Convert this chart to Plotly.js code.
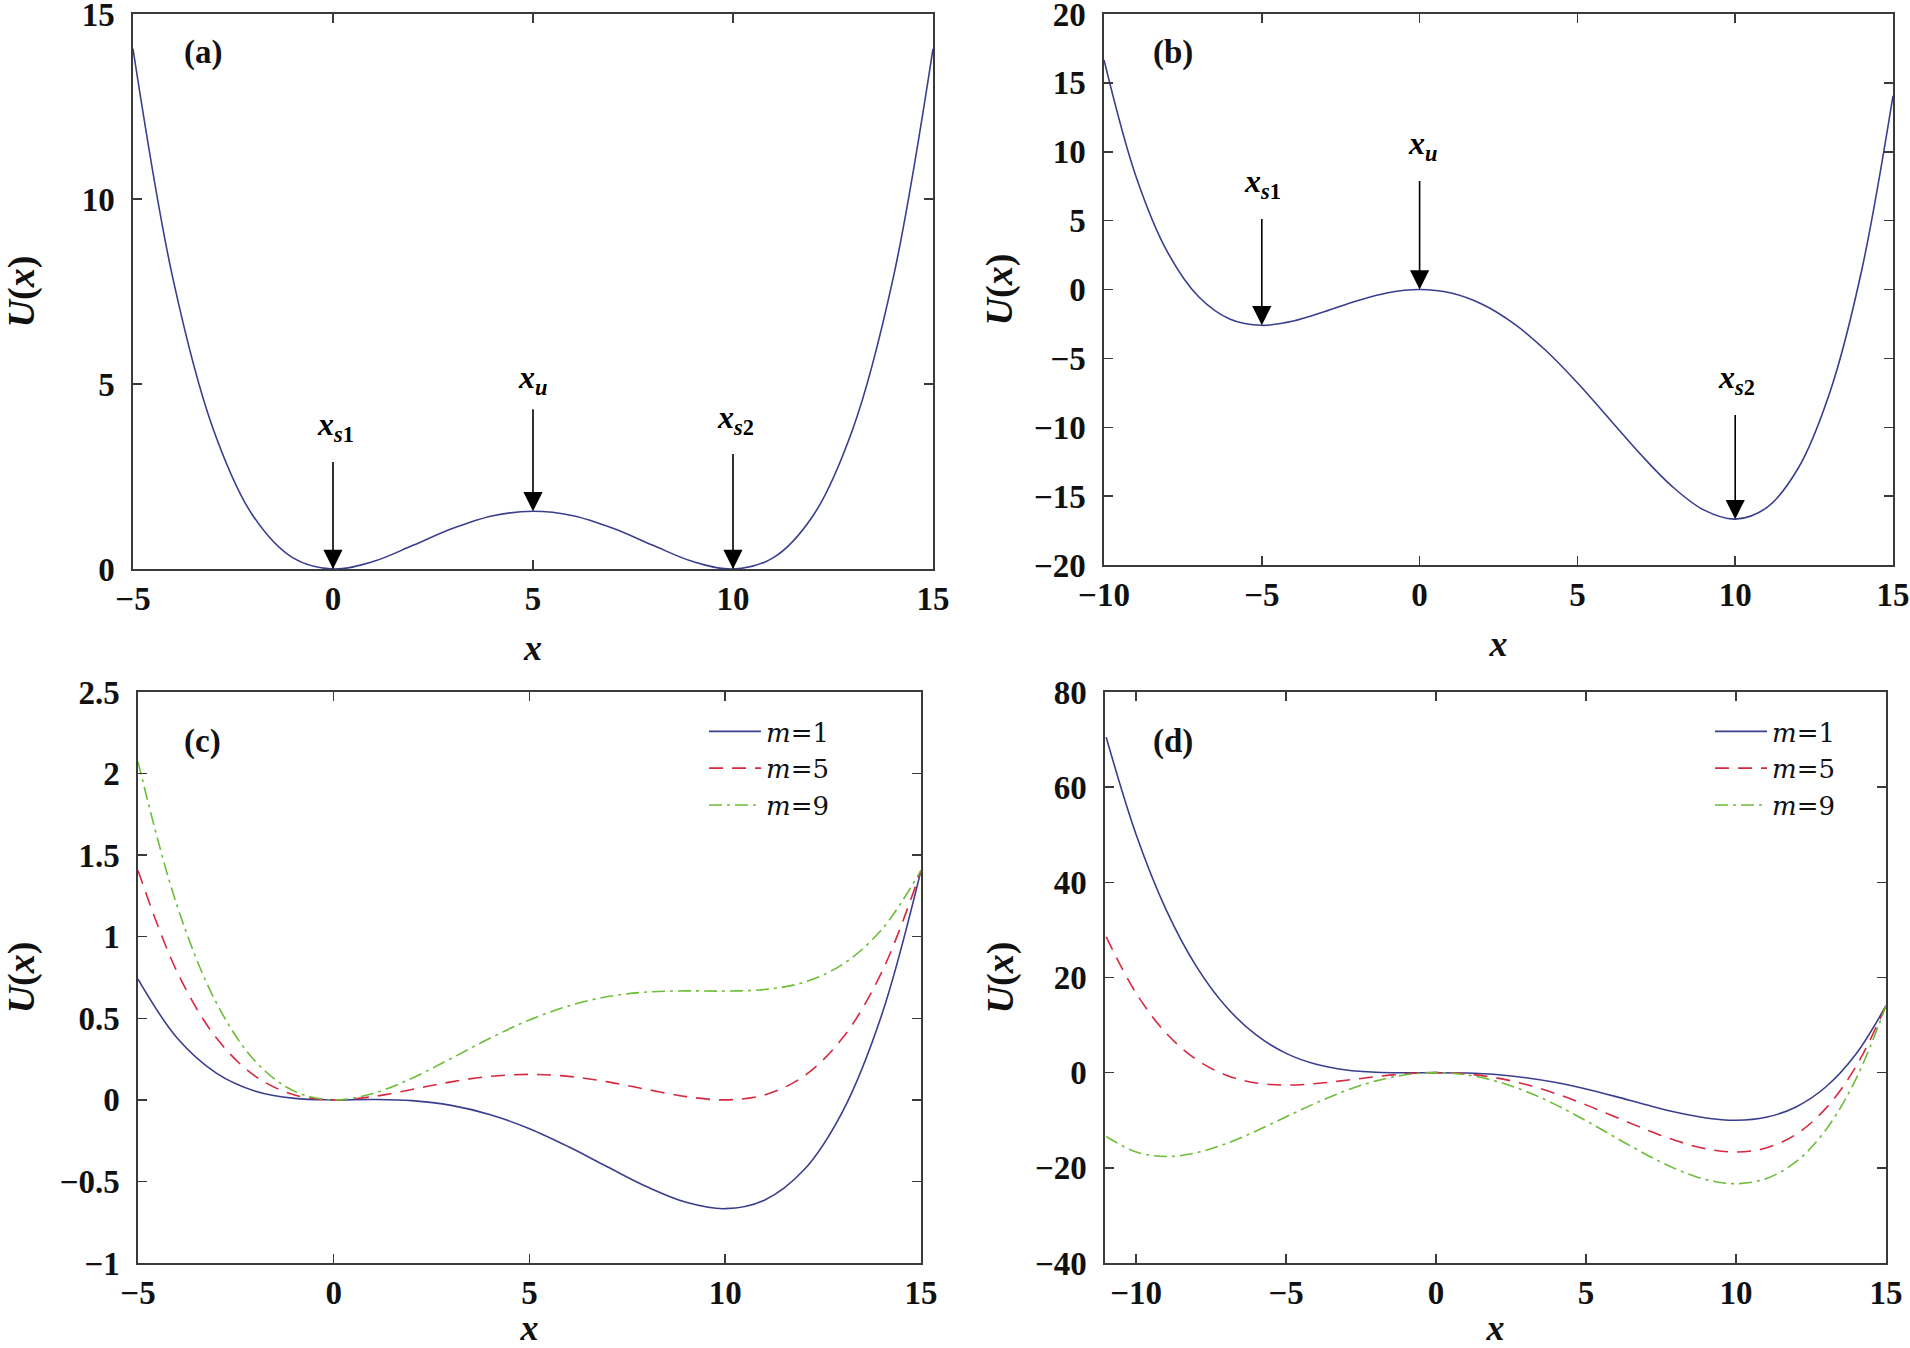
<!DOCTYPE html>
<html><head><meta charset="utf-8">
<script src="https://cdn.plot.ly/plotly-3.0.1.min.js"></script>
<style>html,body{margin:0;padding:0;background:#fff}#chart{width:1910px;height:1348px}</style>
</head><body><div id="chart"></div>
<script>
// ---- data ----
const xA = [-5,-4,-3,-2,-1,0,1,2,3,4,5,6,7,8,9,10,11,12,13,14,15];
const uA = [14.06,7.84,3.80,1.44,0.30,0,0.20,0.64,1.10,1.44,1.56,1.44,1.10,0.64,0.20,0,0.30,1.44,3.80,7.84,14.06];

const xB = [-10,-9,-8,-7,-6,-5,-4,-3,-2,-1,0,1,2,3,4,5,6,7,8,9,10,11,12,13,14,15];
const uB = [16.67,8.30,2.77,-0.53,-2.16,-2.60,-2.29,-1.60,-0.83,-0.23,0,-0.26,-1.09,-2.50,-4.43,-6.77,-9.36,-11.96,-14.29,-16.00,-16.67,-15.83,-12.96,-7.46,1.31,14.06];

const xC = [-5,-4,-3,-2,-1,0,1,2,3,4,5,6,7,8,9,10,11,12,13,14,15];
const uC_m1 = [0.740,0.379,0.164,0.053,0.009,0,0.002,-0.005,-0.034,-0.091,-0.177,-0.288,-0.412,-0.533,-0.628,-0.667,-0.615,-0.432,-0.070,0.523,1.406];
const uC_m5 = [1.406,0.784,0.380,0.144,0.030,0,0.020,0.064,0.110,0.144,0.156,0.144,0.110,0.064,0.020,0,0.030,0.144,0.380,0.784,1.406];
const uC_m9 = [2.073,1.189,0.596,0.235,0.052,0,0.039,0.133,0.254,0.379,0.490,0.576,0.633,0.661,0.668,0.667,0.676,0.720,0.831,1.045,1.406];

const xD = [-11,-10,-9,-8,-7,-6,-5,-4,-3,-2,-1,0,1,2,3,4,5,6,7,8,9,10,11,12,13,14,15];
const uD_m1 = [70.48,50.00,34.22,22.40,13.84,7.92,4.06,1.76,0.56,0.08,-0.02,0,-0.08,-0.40,-1.06,-2.08,-3.44,-5.04,-6.74,-8.32,-9.52,-10.00,-9.38,-7.20,-2.96,3.92,14.06];
const uD_m5 = [28.54,16.67,8.30,2.77,-0.53,-2.16,-2.60,-2.29,-1.60,-0.83,-0.23,0,-0.26,-1.09,-2.50,-4.43,-6.77,-9.36,-11.96,-14.29,-16.00,-16.67,-15.83,-12.96,-7.46,1.31,14.06];
const uD_m9 = [-13.41,-16.67,-17.62,-16.85,-14.90,-12.24,-9.27,-6.35,-3.76,-1.73,-0.44,0,-0.45,-1.79,-3.94,-6.77,-10.10,-13.68,-17.19,-20.27,-22.48,-23.33,-22.28,-18.72,-11.97,-1.31,14.06];

const seriesNames = ['<i>m</i>=1','<i>m</i>=5','<i>m</i>=9'];
const panelLabels = ['(a)','(b)','(c)','(d)'];

const xTicksA = [-5,0,5,10,15],   yTicksA = [0,5,10,15];
const xTicksB = [-10,-5,0,5,10,15], yTicksB = [-20,-15,-10,-5,0,5,10,15,20];
const xTicksC = [-5,0,5,10,15],   yTicksC = [-1,-0.5,0,0.5,1,1.5,2,2.5];
const xTicksD = [-10,-5,0,5,10,15], yTicksD = [-40,-20,0,20,40,60,80];

// arrows: [label, head x, head y, tail y, label x, label y]
const arrowsA = [
  ['<i>x</i><sub><i>s</i>1</sub>', 0, 0, 2.97, 0.06, 3.85],
  ['<i>x</i><sub><i>u</i></sub>', 5, 1.56, 4.40, 5.0, 5.12],
  ['<i>x</i><sub><i>s</i>2</sub>', 10, 0, 3.19, 10.06, 4.05]
];
const arrowsB = [
  ['<i>x</i><sub><i>s</i>1</sub>', -5, -2.60, 5.34, -4.97, 7.70],
  ['<i>x</i><sub><i>u</i></sub>', 0, 0, 8.09, 0.08, 10.45],
  ['<i>x</i><sub><i>s</i>2</sub>', 10, -16.67, -8.89, 10.05, -6.52]
];

// ---- styling ----
const FONT = 'Liberation Serif';
const LFONT = 'DejaVu Serif';
const BLUE = '#3a3e8e', RED = '#d8283f', GREEN = '#6cbd38';
const colors = [BLUE, RED, GREEN];
const dashes = ['solid', '14px,9px', '13px,5px,3px,5px'];

function axis(domain, range, ticks, anchor, title, standoff, isX) {
  return {
    domain: domain, range: range, tickvals: ticks, anchor: anchor,
    showline: true, linecolor: '#3a3a3a', linewidth: 1.6, mirror: 'ticks',
    ticks: 'inside', ticklen: 9, tickwidth: 1.5, tickcolor: '#3a3a3a',
    showgrid: false, zeroline: false, automargin: false, fixedrange: true,
    ticklabelstandoff: isX ? 0 : 10, ticklabeloverflow: 'allow',
    tickfont: {family: FONT, size: 33, color: '#111', weight: 'bold'},
    title: {text: title, standoff: standoff,
      font: {family: FONT, size: isX ? 36 : 38, color: '#111', weight: 'bold'}}
  };
}

const traces = [];
traces.push({x: xA, y: uA, xaxis: 'x', yaxis: 'y', mode: 'lines', showlegend: false,
  line: {color: BLUE, width: 1.6, shape: 'spline', smoothing: 1}});
traces.push({x: xB, y: uB, xaxis: 'x2', yaxis: 'y2', mode: 'lines', showlegend: false,
  line: {color: BLUE, width: 1.6, shape: 'spline', smoothing: 1}});
[uC_m1, uC_m5, uC_m9].forEach((u, i) => traces.push({
  x: xC, y: u, xaxis: 'x3', yaxis: 'y3', mode: 'lines', name: seriesNames[i], legend: 'legend',
  line: {color: colors[i], width: 1.6, dash: dashes[i], shape: 'spline', smoothing: 1}}));
[uD_m1, uD_m5, uD_m9].forEach((u, i) => traces.push({
  x: xD, y: u, xaxis: 'x4', yaxis: 'y4', mode: 'lines', name: seriesNames[i], legend: 'legend2',
  line: {color: colors[i], width: 1.6, dash: dashes[i], shape: 'spline', smoothing: 1}}));

const annotations = [];
function addArrows(list, xr, yr) {
  list.forEach(a => {
    annotations.push({x: a[1], y: a[2], ax: a[1], ay: a[3], xref: xr, yref: yr, axref: xr, ayref: yr,
      text: ' ', showarrow: true, arrowhead: 2, arrowsize: 2.4, arrowwidth: 1.6, arrowcolor: '#000',
      standoff: 0, startstandoff: 0, font: {size: 2}});
    annotations.push({x: a[4], y: a[5], xref: xr, yref: yr, text: a[0], showarrow: false,
      xanchor: 'center', yanchor: 'middle',
      font: {family: FONT, size: 32, color: '#000', weight: 'bold'}});
  });
}
addArrows(arrowsA, 'x', 'y');
addArrows(arrowsB, 'x2', 'y2');
const labelPos = [['x domain','y domain',0.0875,0.93],['x2 domain','y2 domain',0.0875,0.93],['x3 domain','y3 domain',0.082,0.914],['x4 domain','y4 domain',0.087,0.914]];
labelPos.forEach((p, i) => annotations.push({xref: p[0], yref: p[1], x: p[2], y: p[3], text: panelLabels[i], showarrow: false,
  xanchor: 'center', yanchor: 'middle', font: {family: FONT, size: 33, color: '#111', weight: 'bold'}}));

const legendBase = {xanchor: 'left', yanchor: 'top', y: 0.4748, bgcolor: 'rgba(0,0,0,0)', borderwidth: 0,
  itemwidth: 52, tracegroupgap: 0, font: {family: LFONT, size: 26, color: '#111'}};

const layout = {
  width: 1910, height: 1348, margin: {l: 0, r: 0, t: 0, b: 0},
  paper_bgcolor: '#fff', plot_bgcolor: '#fff', showlegend: true,
  xaxis:  axis([0.06963, 0.48848], [-5, 15], xTicksA, 'y',  '<i>x</i>', 18, true),
  yaxis:  axis([0.57789, 0.98961], [0, 15], yTicksA, 'x',  '<i>U</i>(<i>x</i>)', 60, false),
  xaxis2: axis([0.57801, 0.99110], [-10, 15], xTicksB, 'y2', '<i>x</i>', 18, true),
  yaxis2: axis([0.58086, 0.98961], [-20, 20], yTicksB, 'x2', '<i>U</i>(<i>x</i>)', 9, false),
  xaxis3: axis([0.07225, 0.48220], [-5, 15], xTicksC, 'y3', '<i>x</i>', 20, true),
  yaxis3: axis([0.06306, 0.48665], [-1, 2.5], yTicksC, 'x3', '<i>U</i>(<i>x</i>)', 32, false),
  xaxis4: axis([0.57853, 0.98743], [-11.04, 15], xTicksD, 'y4', '<i>x</i>', 20, true),
  yaxis4: axis([0.06306, 0.48665], [-40, 80], yTicksD, 'x4', '<i>U</i>(<i>x</i>)', 9, false),
  legend:  Object.assign({}, legendBase, {x: 0.3686}),
  legend2: Object.assign({}, legendBase, {x: 0.8953}),
  annotations: annotations
};

Plotly.newPlot('chart', traces, layout, {staticPlot: true, displayModeBar: false});
</script>
</body></html>
